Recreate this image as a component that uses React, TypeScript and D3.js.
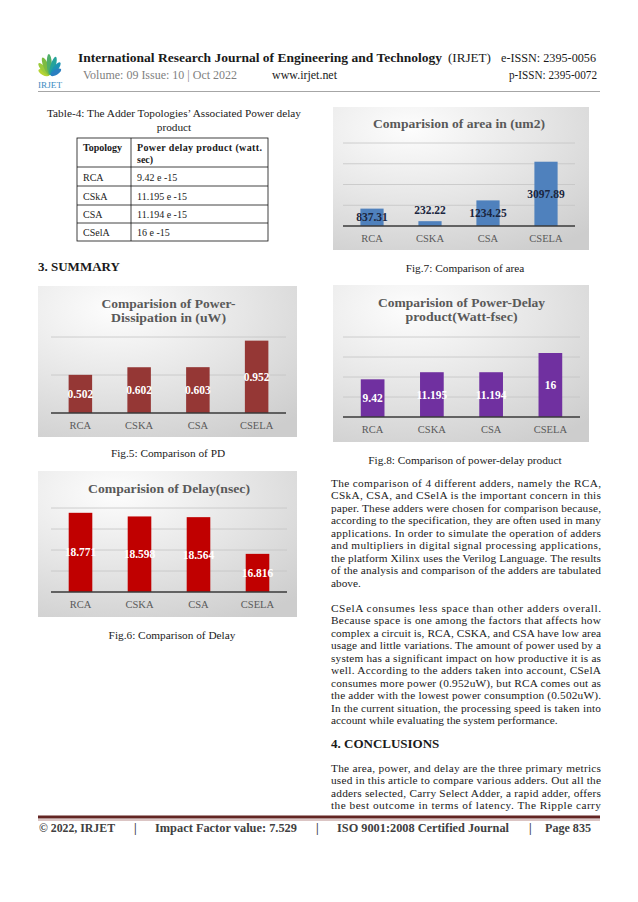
import React from 'react';
import * as d3 from 'd3';

// ---------- data ----------
const categories = ['RCA', 'CSKA', 'CSA', 'CSELA'];
const areaValues = [837.31, 232.22, 1234.25, 3097.89];
const areaLabels = ['837.31', '232.22', '1234.25', '3097.89'];
const powerValues = [0.502, 0.602, 0.603, 0.952];
const powerLabels = ['0.502', '0.602', '0.603', '0.952'];
const delayValues = [18.771, 18.598, 18.564, 16.816];
const delayLabels = ['18.771', '18.598', '18.564', '16.816'];
const pdpValues = [9.42, 11.195, 11.194, 16];
const pdpLabels = ['9.42', '11.195', '11.194', '16'];
const areaTicks = [1000, 2000, 3000, 4000];
const powerTicks = [0.5, 1.0];
const delayTicks = [16, 17, 18, 19];
const pdpTicks = [5, 10, 15, 20];
const tableTopologies = ['RCA', 'CSkA', 'CSA', 'CSelA'];
const tablePdp = ['9.42 e -15', '11.195 e -15', '11.194 e -15', '16 e -15'];

const para1 = [
  'The comparison of 4 different adders, namely the RCA,',
  'CSkA, CSA, and CSelA is the important concern in this',
  'paper. These adders were chosen for comparison because,',
  'according to the specification, they are often used in many',
  'applications. In order to simulate the operation of adders',
  'and multipliers in digital signal processing applications,',
  'the platform Xilinx uses the Verilog Language. The results',
  'of the analysis and comparison of the adders are tabulated',
  'above.',
];
const para2 = [
  'CSelA consumes less space than other adders overall.',
  'Because space is one among the factors that affects how',
  'complex a circuit is, RCA, CSKA, and CSA have low area',
  'usage and little variations. The amount of power used by a',
  'system has a significant impact on how productive it is as',
  'well. According to the adders taken into account, CSelA',
  'consumes more power (0.952uW), but RCA comes out as',
  'the adder with the lowest power consumption (0.502uW).',
  'In the current situation, the processing speed is taken into',
  'account while evaluating the system performance.',
];
const para3 = [
  'The area, power, and delay are the three primary metrics',
  'used in this article to compare various adders. Out all the',
  'adders selected, Carry Select Adder, a rapid adder, offers',
  'the best outcome in terms of latency. The Ripple carry',
];

const SERIF = "'Liberation Serif', 'DejaVu Serif', serif";

type ChartProps = {
  id: string;
  box: [number, number, number, number];
  plot: [number, number, number, number];
  domain: [number, number];
  ticks: number[];
  values: number[];
  labels: string[];
  color: string;
  labelColor: string;
  title: string[];
  titleBaselines: number[];
  titleLengths: number[];
};

function BarChart(p: ChartProps) {
  const [bx0, by0, bx1, by1] = p.box;
  const [left, right, bottom, top] = p.plot;
  const x = d3.scaleBand<string>().domain(categories).range([left, right]).paddingInner(0.6).paddingOuter(0.3);
  const y = d3.scaleLinear().domain(p.domain).range([bottom, top]);
  const base = p.domain[0];
  const cx = (left + right) / 2;
  return (
    <g>
      <defs>
        <radialGradient id={p.id} cx="0.3" cy="0.15" r="1">
          <stop offset="0" stopColor="#fdfdfd" />
          <stop offset="0.5" stopColor="#e6e6e6" />
          <stop offset="1" stopColor="#cdcdcd" />
        </radialGradient>
      </defs>
      <rect x={bx0} y={by0} width={bx1 - bx0} height={by1 - by0} fill={`url(#${p.id})`} />
      {p.title.map((t, i) => (
        <text key={i} x={cx} y={p.titleBaselines[i]} textAnchor="middle" fontFamily={SERIF}
          fontWeight="bold" fontSize={13} fill="#595959" textLength={p.titleLengths[i]}
          lengthAdjust="spacingAndGlyphs">{t}</text>
      ))}
      {p.ticks.map((t) => (
        <line key={t} x1={left} x2={right} y1={y(t)} y2={y(t)} stroke="#c4c4c4" strokeWidth={0.8} />
      ))}
      {p.values.map((v, i) => (
        <rect key={i} x={x(categories[i])} y={y(v)} width={x.bandwidth()} height={y(base) - y(v)} fill={p.color} />
      ))}
      <line x1={left} x2={right} y1={y(base)} y2={y(base)} stroke="#3a3a3a" strokeWidth={1.6} />
      {p.values.map((v, i) => {
        const h = y(base) - y(v);
        const cy = h > 14 ? y((base + v) / 2) : y(v) - 11;
        return (
          <text key={i} x={(x(categories[i]) as number) + x.bandwidth() / 2} y={cy + 4} textAnchor="middle"
            fontFamily={SERIF} fontWeight="bold" fontSize={11.5} fill={p.labelColor}>{p.labels[i]}</text>
        );
      })}
      {categories.map((c) => (
        <text key={c} x={(x(c) as number) + x.bandwidth() / 2} y={y(base) + 16} textAnchor="middle"
          fontFamily={SERIF} fontSize={10.5} fill="#595959">{c}</text>
      ))}
    </g>
  );
}

function Logo() {
  const leaves = [
    { a: -62, l: 12, c: '#b5d334' },
    { a: -42, l: 16, c: '#9ccb3b' },
    { a: -22, l: 19, c: '#7dbb42' },
    { a: -3, l: 21, c: '#4fae6a' },
    { a: 17, l: 19, c: '#25a39b' },
    { a: 37, l: 16, c: '#1c93b3' },
    { a: 58, l: 12, c: '#2a7fc0' },
  ];
  const bx = 50, by = 76;
  return (
    <g>
      {leaves.map((f, i) => (
        <ellipse key={i} cx={bx} cy={by - f.l / 2 - 1} rx={2.6} ry={f.l / 2}
          fill={f.c} transform={`rotate(${f.a} ${bx} ${by})`} />
      ))}
      <text x={38} y={88} fontFamily={SERIF} fontSize={8.5} fill="#3b8bc2" textLength={24} lengthAdjust="spacingAndGlyphs">IRJET</text>
    </g>
  );
}

function Para({ lines, x, y0, step, width, justifyLast }: { lines: string[]; x: number; y0: number; step: number; width: number; justifyLast?: boolean }) {
  return (
    <g>
      {lines.map((l, i) => {
        const last = i === lines.length - 1 && !justifyLast;
        return (
          <text key={i} x={x} y={y0 + i * step} fontFamily={SERIF} fontSize={11.3} fill="#1a1a1a"
            {...(last ? {} : { textLength: width, lengthAdjust: 'spacing' })}>{l}</text>
        );
      })}
    </g>
  );
}

export default function App() {
  const rowLines = [167, 186, 205, 223];
  const rowBase = [181, 200, 218, 236];
  return (
    <svg width={638} height={902} style={{ position: 'absolute', left: 0, top: 0, background: '#fff' }}>
      <rect x={0} y={0} width={638} height={902} fill="#fff" />
      {/* header */}
      <Logo />
      <text x={78} y={62} fontFamily={SERIF} fontWeight="bold" fontSize={13} fill="#1a1a1a" textLength={364} lengthAdjust="spacingAndGlyphs">International Research Journal of Engineering and Technology</text>
      <text x={448} y={62} fontFamily={SERIF} fontSize={12.5} fill="#1a1a1a" textLength={43} lengthAdjust="spacingAndGlyphs">(IRJET)</text>
      <text x={501} y={62} fontFamily={SERIF} fontSize={12} fill="#1a1a1a" textLength={95} lengthAdjust="spacingAndGlyphs">e-ISSN: 2395-0056</text>
      <text x={83} y={79} fontFamily={SERIF} fontSize={12} fill="#7f7f7f" textLength={154} lengthAdjust="spacingAndGlyphs">Volume: 09 Issue: 10 | Oct 2022</text>
      <text x={272} y={79} fontFamily={SERIF} fontSize={12} fill="#1a1a1a" textLength={65} lengthAdjust="spacingAndGlyphs">www.irjet.net</text>
      <text x={509} y={79} fontFamily={SERIF} fontSize={12} fill="#1a1a1a" textLength={88} lengthAdjust="spacingAndGlyphs">p-ISSN: 2395-0072</text>
      <line x1={38} x2={600} y1={91.5} y2={91.5} stroke="#a6a6a6" strokeWidth={1} />

      {/* table */}
      <text x={174} y={117} textAnchor="middle" fontFamily={SERIF} fontSize={11.3} fill="#1a1a1a" textLength={254} lengthAdjust="spacingAndGlyphs">Table-4: The Adder Topologies’ Associated Power delay</text>
      <text x={174} y={131} textAnchor="middle" fontFamily={SERIF} fontSize={11.3} fill="#1a1a1a">product</text>
      <rect x={77} y={138} width={191} height={103} fill="none" stroke="#111" strokeWidth={0.8} />
      {rowLines.map((r) => <line key={r} x1={77} x2={268} y1={r} y2={r} stroke="#111" strokeWidth={0.8} />)}
      <line x1={131} x2={131} y1={138} y2={241} stroke="#111" strokeWidth={0.8} />
      <text x={83} y={151} fontFamily={SERIF} fontWeight="bold" fontSize={10} fill="#1a1a1a">Topology</text>
      <text x={137} y={151} fontFamily={SERIF} fontWeight="bold" fontSize={10} fill="#1a1a1a" textLength={125} lengthAdjust="spacing">Power delay product (watt.</text>
      <text x={137} y={163} fontFamily={SERIF} fontWeight="bold" fontSize={10} fill="#1a1a1a">sec)</text>
      {tableTopologies.map((t, i) => (
        <g key={t}>
          <text x={83} y={rowBase[i]} fontFamily={SERIF} fontSize={10} fill="#1a1a1a">{t}</text>
          <text x={137} y={rowBase[i]} fontFamily={SERIF} fontSize={10} fill="#1a1a1a">{tablePdp[i]}</text>
        </g>
      ))}

      <text x={38} y={271} fontFamily={SERIF} fontWeight="bold" fontSize={13} fill="#1a1a1a">3. SUMMARY</text>

      {/* charts */}
      <BarChart id="gArea" box={[333, 107, 589, 250]} plot={[343, 575, 226, 143]} domain={[0, 4000]}
        ticks={areaTicks} values={areaValues} labels={areaLabels} color="#4f81bd" labelColor="#1b2640"
        title={['Comparision of area in (um2)']} titleBaselines={[128]} titleLengths={[172]} />
      <text x={465} y={272} textAnchor="middle" fontFamily={SERIF} fontSize={11.3} fill="#1a1a1a">Fig.7: Comparison  of area</text>

      <BarChart id="gPow" box={[38, 286, 297, 437]} plot={[51, 286, 413, 337]} domain={[0, 1]}
        ticks={powerTicks} values={powerValues} labels={powerLabels} color="#953735" labelColor="#ffffff"
        title={['Comparision of Power-', 'Dissipation in (uW)']} titleBaselines={[307.5, 322]} titleLengths={[134, 115]} />
      <text x={168} y={457} textAnchor="middle" fontFamily={SERIF} fontSize={11.3} fill="#1a1a1a">Fig.5: Comparison  of PD</text>

      <BarChart id="gPdp" box={[333, 285, 589, 442]} plot={[343, 580, 417, 337]} domain={[0, 20]}
        ticks={pdpTicks} values={pdpValues} labels={pdpLabels} color="#7030a0" labelColor="#ffffff"
        title={['Comparision of Power-Delay', 'product(Watt-fsec)']} titleBaselines={[306.5, 321]} titleLengths={[167, 112]} />
      <text x={465} y={464} textAnchor="middle" fontFamily={SERIF} fontSize={11.3} fill="#1a1a1a">Fig.8: Comparison  of  power-delay product</text>

      <BarChart id="gDel" box={[38, 471, 297, 617]} plot={[51, 287, 592, 508]} domain={[15, 19]}
        ticks={delayTicks} values={delayValues} labels={delayLabels} color="#c00000" labelColor="#ffffff"
        title={['Comparision of Delay(nsec)']} titleBaselines={[493]} titleLengths={[162]} />
      <text x={172} y={639} textAnchor="middle" fontFamily={SERIF} fontSize={11.3} fill="#1a1a1a">Fig.6: Comparison  of  Delay</text>

      {/* body text */}
      <Para lines={para1} x={331} y0={487} step={12.45} width={270} />
      <Para lines={para2} x={331} y0={612} step={12.45} width={270} />
      <text x={331} y={748} fontFamily={SERIF} fontWeight="bold" fontSize={13} fill="#1a1a1a">4. CONCLUSIONS</text>
      <Para lines={para3} x={331} y0={772} step={12.45} width={270} justifyLast />

      {/* footer */}
      <line x1={38} x2={600} y1={817} y2={817} stroke="#632523" strokeWidth={3} />
      <line x1={38} x2={600} y1={820} y2={820} stroke="#9a5a56" strokeWidth={0.7} />
      <text x={39} y={832} fontFamily={SERIF} fontWeight="bold" fontSize={12} fill="#404040" textLength={76} lengthAdjust="spacingAndGlyphs">© 2022, IRJET</text>
      <text x={134} y={832} fontFamily={SERIF} fontWeight="bold" fontSize={12} fill="#404040">|</text>
      <text x={155} y={832} fontFamily={SERIF} fontWeight="bold" fontSize={12} fill="#404040" textLength={142} lengthAdjust="spacingAndGlyphs">Impact Factor value: 7.529</text>
      <text x={316} y={832} fontFamily={SERIF} fontWeight="bold" fontSize={12} fill="#404040">|</text>
      <text x={337} y={832} fontFamily={SERIF} fontWeight="bold" fontSize={12} fill="#404040" textLength={172} lengthAdjust="spacingAndGlyphs">ISO 9001:2008 Certified Journal</text>
      <text x={529} y={832} fontFamily={SERIF} fontWeight="bold" fontSize={12} fill="#404040">|</text>
      <text x={545} y={832} fontFamily={SERIF} fontWeight="bold" fontSize={12} fill="#404040" textLength={46} lengthAdjust="spacingAndGlyphs">Page 835</text>
    </svg>
  );
}
